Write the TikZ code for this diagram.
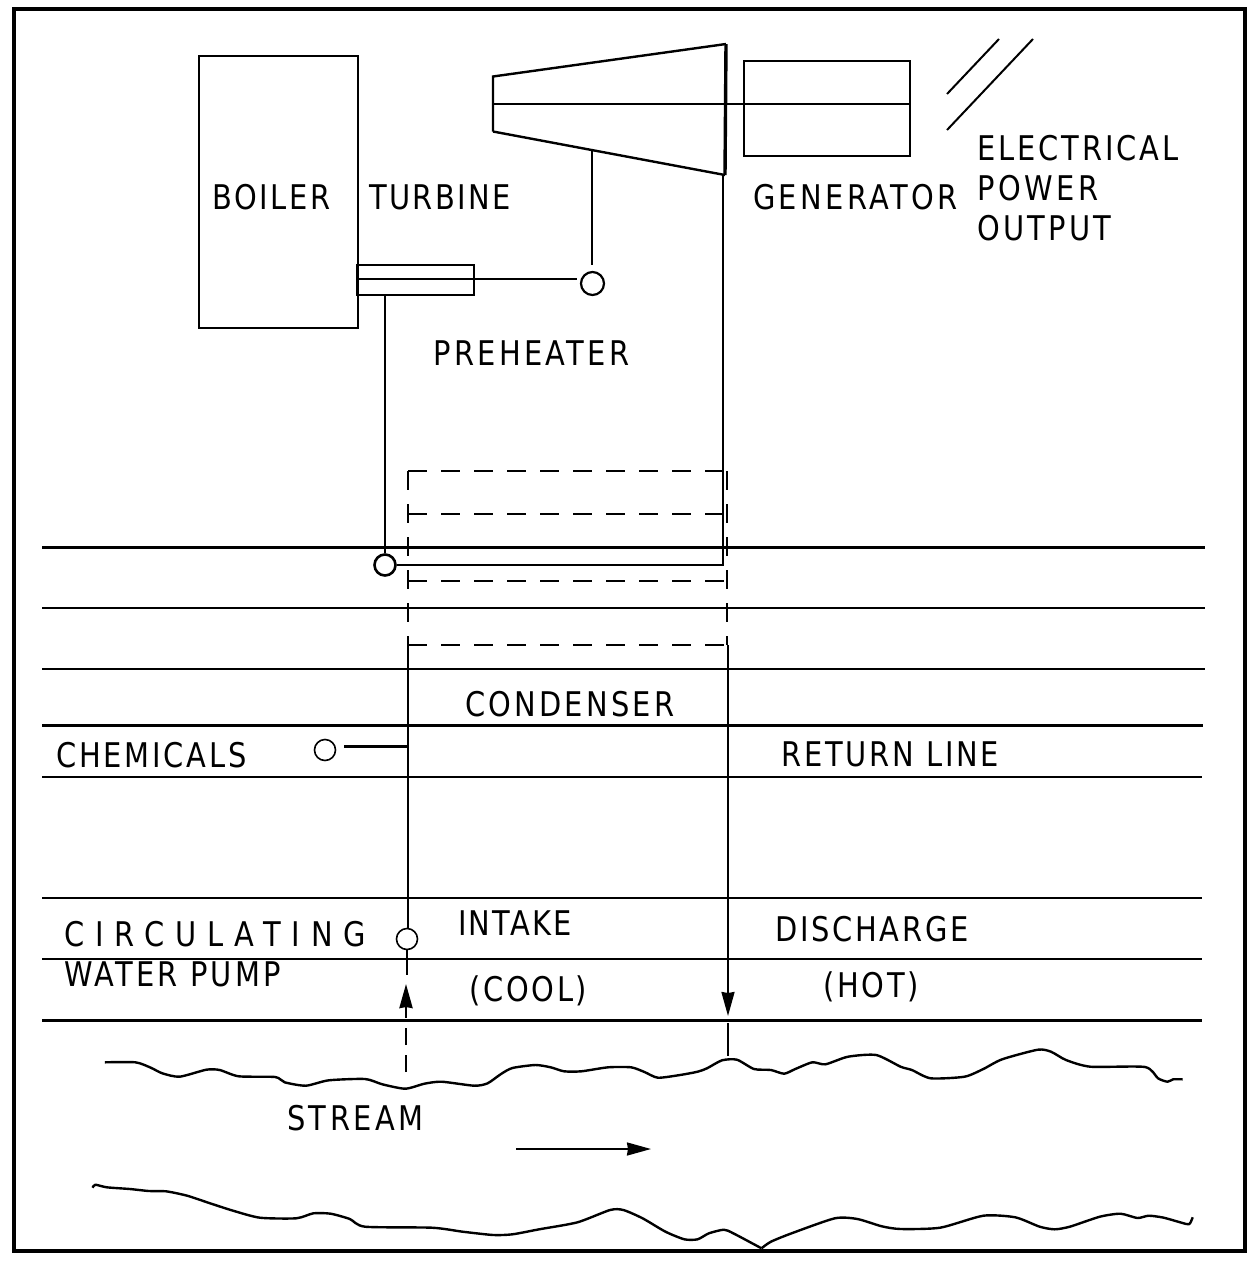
\documentclass[tikz,border=0pt]{standalone}
\usepackage{fontspec}
\usetikzlibrary{arrows.meta}
\newfontfamily\labelfont[FakeStretch=0.85]{DejaVu Sans}
\tikzset{
  >={Stealth[length=24pt,width=13pt,inset=1pt]},
  pipe/.style = {line width=2pt},
  dashpipe/.style = {line width=2pt,dash pattern=on 19pt off 14pt},
  valve/.style = {draw,circle,line width=2.2pt,fill=white,inner sep=0pt,minimum size=21pt},
  box/.style = {draw,line width=2.2pt,inner sep=0pt},
  riverline/.style = {line width=2.4pt,line join=round},
  lbl/.style = {anchor=base west,inner sep=0pt,
    font=\labelfont\fontsize{34}{40}\selectfont\addfontfeature{LetterSpace=#1}},
  lbl/.default = 8
}

\begin{document}
\begin{tikzpicture}[x=1pt,y=-1pt]
  \useasboundingbox (0,0) rectangle (1249,1270);
  \draw[line width=4pt] (14,9) rectangle (1245,1251);

  % bands
  \foreach \yy/\xx/\lw in {547/1205/3,608/1205/2,669/1205/2,725/1203/3,777/1202/2,898/1202/2,959/1202/2,1020/1202/3}
    \draw[line width=\lw pt] (42,\yy) -- (\xx,\yy);

  % plant
  \node[box,minimum width=159pt,minimum height=272pt] (boiler) at (278.5,192) {};
  \node[box,minimum width=117pt,minimum height=30pt] (tube) at (415.5,280) {};
  \node[box,minimum width=166pt,minimum height=95pt] (gen) at (827,108.5) {};
  \coordinate (tl) at (493,76.5);
  \coordinate (tr) at (726,44);
  \coordinate (br) at (725,175);
  \coordinate (bl) at (493,131.5);
  \draw[line width=2.4pt] (bl) -- (tl) -- (tr);
  \draw[line width=2.4pt] (bl) -- (br);
  \draw[line width=3.4pt] (tr) -- (br);
  \coordinate (shaft) at (493,104);
  \coordinate (shaftend) at (909,104);
  \draw[pipe] (shaft) -- (shaftend);

  \node[valve,minimum size=23pt] (preheat) at (592.5,283.5) {};
  \node[valve,line width=2.6pt] (cond) at (385,565) {};
  \node[valve,line width=1.6pt] (chem) at (325,750) {};
  \node[valve,line width=1.6pt] (pump) at (407,939) {};

  \coordinate (tubeA) at (357,279);
  \coordinate (tubeB) at (577,279);
  \coordinate (bleed) at (592,151);
  \coordinate (bleedend) at (592,265);
  \draw[pipe] (tubeA) -- (tubeB);
  \draw[pipe] (bleed) -- (bleedend);
  \draw[pipe] (tube.south -| cond) -- (cond);
  \coordinate (exh) at (723,565);
  \draw[pipe] (cond) -- (exh) -- (br -| exh);

  % condenser
  \coordinate (c1) at (408,471);
  \coordinate (c2) at (727,471);
  \coordinate (c3) at (408,514);
  \coordinate (c4) at (727,514);
  \coordinate (c5) at (408,581);
  \coordinate (c6) at (727,581);
  \coordinate (c7) at (408,645);
  \coordinate (c8) at (727,645);
  \draw[dashpipe] (c1) -- (c2);
  \draw[dashpipe] (c3) -- (c4);
  \draw[dashpipe] (c5) -- (c6);
  \draw[dashpipe] (c7) -- (c8);
  \draw[dashpipe] (c1) -- (c7);
  \draw[dashpipe] (c2) -- (c8);

  % water lines
  \coordinate (outA) at (728,645);
  \coordinate (outB) at (728,1016);
  \coordinate (outC) at (728,1023);
  \coordinate (outD) at (728,1056);
  \coordinate (inA) at (408,645);
  \coordinate (inAend) at (408,928);
  \coordinate (inB) at (407,975);
  \coordinate (inC) at (406,1072);
  \coordinate (inD) at (406,984);
  \coordinate (chemA) at (344,746);
  \coordinate (chemB) at (408,746);
  \draw[->,pipe] (outA) -- (outB);
  \draw[line width=2.6pt] (outC) -- (outD);
  \draw[pipe] (inA) -- (inAend);
  \draw[pipe] (pump) -- (inB);
  \draw[->,line width=2.6pt,dash pattern=on 17pt off 10pt] (inC) -- (inD);
  \draw[line width=3pt] (chemA) -- (chemB);

  % stream
  \coordinate (flowA) at (516,1149);
  \coordinate (flowB) at (651,1149);
  \draw[->,pipe] (flowA) -- (flowB);
  \draw[riverline] plot[smooth,tension=0.4] coordinates {
    (104.9,1062.3) (135.5,1062.3) (150.8,1067.7) (162.3,1073.3) (179.5,1076.7)
    (206.3,1069.7) (219.7,1070) (238.8,1076.3) (275.2,1077) (284.7,1082.3)
    (305.8,1085.7) (328.8,1080.3) (365.1,1079) (382.3,1084.3) (405.3,1088.7)
    (424.4,1083.7) (441.6,1081.7) (474.2,1085.7) (487.6,1083.3) (501,1074)
    (512.4,1068) (535.4,1065) (550.7,1067.3) (564.1,1071.3) (581.3,1071.3)
    (608.1,1067.3) (631.1,1067.3) (644.5,1072) (657.9,1077.7) (680,1075)
    (697.6,1071.7) (707,1068.3) (722,1060.3) (737,1059.7) (754,1069)
    (770.9,1070) (784.1,1073.7) (795.3,1069) (812.3,1062.3) (825.4,1064.3)
    (848,1056.7) (876.2,1055) (900.6,1066.7) (911.9,1070) (930.7,1078.3)
    (964.5,1076.7) (983.3,1069) (1002.1,1059.3) (1037.8,1049.7) (1051,1051.7)
    (1066,1060) (1090.4,1066.7) (1145,1067) (1158,1078.3) (1167.5,1081.7)
    (1173.2,1079.3) (1182.6,1079.3)};
  \draw[riverline] plot[smooth,tension=0.4] coordinates {
    (92.6,1187.7) (95.3,1184.7) (106.8,1187.3) (129.8,1189) (148.9,1191)
    (166.1,1191.3) (187.2,1195.7) (210.1,1203.3) (233.1,1210.7) (259.9,1217.7)
    (296.2,1218.3) (313.4,1213.3) (330.7,1213.7) (349.8,1219) (365.1,1226.7)
    (432.1,1227.7) (462.7,1231.7) (493.3,1235) (512.5,1234.3) (539.2,1229.3)
    (577.5,1222.3) (610,1210) (623.4,1210) (642.6,1218.3) (665.5,1231.7)
    (684.4,1239.3) (697.6,1239.3) (708.9,1233.3) (723.9,1229.7) (733.3,1233.3)
    (761.5,1248.3)};
  \draw[riverline] plot[smooth,tension=0.4] coordinates {
    (761.5,1248.3) (770.9,1241.7) (791.6,1233.3) (834.8,1218.3) (857.4,1219)
    (881.8,1226.3) (900.6,1229) (940.1,1227.7) (983.3,1215.7) (1015.3,1217.3)
    (1039.7,1226.7) (1054.7,1229.3) (1069.8,1226.7) (1099.8,1216.7) (1120.5,1213.7)
    (1137.4,1218) (1148.7,1215.7) (1163.8,1217.7) (1186.3,1224) (1190,1223.3)
    (1192.7,1217.3)};

  % power output
  \coordinate (p1) at (947,94);
  \coordinate (p2) at (999,39);
  \coordinate (p3) at (947,130);
  \coordinate (p4) at (1033,39);
  \draw[pipe] (p1) -- (p2);
  \draw[pipe] (p3) -- (p4);

  % labels
  \node[lbl=8] (lboiler) at (212,209.2) {BOILER};
  \node[lbl=7] (lturbine) at (369,209.2) {TURBINE};
  \node[lbl=9.8] (lgen) at (753,209.2) {GENERATOR};
  \node[lbl=8.6] (lelec) at (977,160.2) {ELECTRICAL};
  \node[lbl=10.5] (lpower) at (977,200.2) {POWER};
  \node[lbl=9.6] (loutput) at (977,240.2) {OUTPUT};
  \node[lbl=10] (lpre) at (433,365.2) {PREHEATER};
  \node[lbl=9.5] (lcond) at (465,716.2) {CONDENSER};
  \node[lbl=8.3] (lchem) at (56,767.5) {CHEMICALS};
  \node[lbl=8.3] (lreturn) at (781,766.2) {RETURN LINE};
  \node[lbl=32] (lcirc) at (64,946.2) {CIRCULATING};
  \node[lbl=9.6] (lwater) at (64,986.2) {WATER PUMP};
  \node[lbl=6.5] (lintake) at (458,935.2) {INTAKE};
  \node[lbl=8] (ldis) at (775,941.2) {DISCHARGE};
  \node[lbl=8] (lcool) at (469,1001.2) {(COOL)};
  \node[lbl=8] (lhot) at (823,997.2) {(HOT)};
  \node[lbl=10] (lstream) at (287,1130.2) {STREAM};
\end{tikzpicture}
\end{document}
